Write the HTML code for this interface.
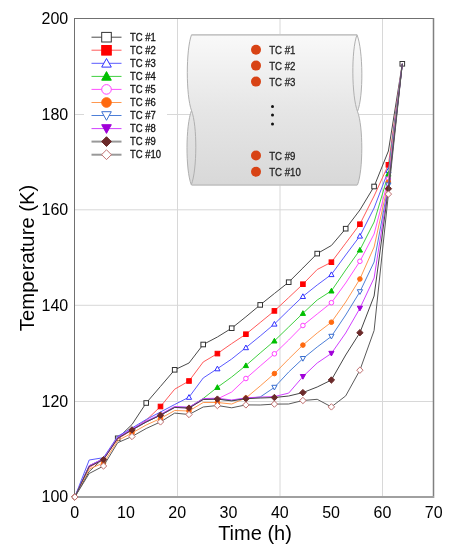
<!DOCTYPE html>
<html><head><meta charset="utf-8"><title>Temperature vs Time</title>
<style>
html,body{margin:0;padding:0;background:#fff;}
body{width:452px;height:550px;overflow:hidden;}
svg{display:block;}
text{font-family:"Liberation Sans",Arial,sans-serif;fill:#000;}
.tk{font-size:16px;}
.ax{font-size:20.3px;}
.lg{font-size:10.9px;fill:#111;stroke:#111;stroke-width:0.3px;}
.cl{font-size:11.1px;fill:#222;stroke:#222;stroke-width:0.3px;}
</style></head><body>
<svg width="452" height="550" viewBox="0 0 452 550">
<rect width="452" height="550" fill="#fff"/>
<line x1="177.5" y1="18" x2="177.5" y2="497" stroke="#d8d8d8" stroke-width="1"/>
<line x1="280" y1="18" x2="280" y2="497" stroke="#d8d8d8" stroke-width="1"/>
<line x1="382.5" y1="18" x2="382.5" y2="497" stroke="#d8d8d8" stroke-width="1"/>
<line x1="74" y1="114.5" x2="433" y2="114.5" stroke="#d8d8d8" stroke-width="1"/>
<line x1="74" y1="209.8" x2="433" y2="209.8" stroke="#d8d8d8" stroke-width="1"/>
<line x1="74" y1="305.3" x2="433" y2="305.3" stroke="#d8d8d8" stroke-width="1"/>
<line x1="74" y1="401.5" x2="433" y2="401.5" stroke="#d8d8d8" stroke-width="1"/>
<rect x="84" y="28" width="83" height="134" fill="#fff"/>

<defs><linearGradient id="cg" x1="0" y1="0" x2="0" y2="1">
<stop offset="0" stop-color="#f9f9f9"/><stop offset="0.5" stop-color="#e6e6e6"/><stop offset="1" stop-color="#d8d8d8"/></linearGradient></defs>
<path d="M191.5,34.8 L357,34.8 C363.13,50.14 363.63,96.16 357.50,111.50 C363.23,126.16 363.23,170.14 357.50,184.80 L191.3,184.8 C185.43,169.94 185.63,125.36 191.50,110.50 C185.90,95.36 185.90,49.94 191.50,34.80 Z" fill="url(#cg)" stroke="#b0b0b0" stroke-width="1"/>
<path d="M191.5,110.5 C197.37,125.36 197.17,169.94 191.30,184.80" fill="none" stroke="#b0b0b0" stroke-width="1"/>
<path d="M357,34.8 C351.13,50.14 351.63,96.16 357.50,111.50" fill="none" stroke="#b0b0b0" stroke-width="1"/>
<line x1="192.0" y1="34.8" x2="356.5" y2="34.8" stroke="#c6c6c6" stroke-width="1.6"/>
<line x1="191.8" y1="184.8" x2="357.0" y2="184.8" stroke="#c6c6c6" stroke-width="1.8"/>

<circle cx="256" cy="49.7" r="5" fill="#d84315"/>
<text transform="translate(269.2,53.9) scale(0.87,1)" class="cl">TC #1</text>
<circle cx="256" cy="65.6" r="5" fill="#d84315"/>
<text transform="translate(269.2,69.8) scale(0.87,1)" class="cl">TC #2</text>
<circle cx="256" cy="81.6" r="5" fill="#d84315"/>
<text transform="translate(269.2,85.8) scale(0.87,1)" class="cl">TC #3</text>
<circle cx="256" cy="155.5" r="5" fill="#d84315"/>
<text transform="translate(269.2,159.7) scale(0.87,1)" class="cl">TC #9</text>
<circle cx="256" cy="171.8" r="5" fill="#d84315"/>
<text transform="translate(269.2,176.0) scale(0.87,1)" class="cl">TC #10</text>
<circle cx="272.5" cy="106.4" r="1.5" fill="#111"/>
<circle cx="272.5" cy="115.1" r="1.5" fill="#111"/>
<circle cx="272.5" cy="124.1" r="1.5" fill="#111"/>
<line x1="74.5" y1="18" x2="74.5" y2="497" stroke="#707070" stroke-width="1"/>
<line x1="74" y1="18.5" x2="434" y2="18.5" stroke="#707070" stroke-width="1"/>
<line x1="433.5" y1="18" x2="433.5" y2="498" stroke="#808080" stroke-width="1.5"/>
<line x1="74" y1="497" x2="434" y2="497" stroke="#a0a0a0" stroke-width="2"/>
<polyline points="74.8,497.0 89.2,471.5 103.5,458.0 117.7,438.3 132.0,424.5 146.2,403.0 160.5,386.4 174.7,369.8 189.0,363.0 203.2,344.5 217.4,337.0 231.7,328.2 245.9,316.8 260.2,304.9 274.4,293.5 288.7,282.2 302.9,268.0 317.2,253.6 331.4,245.5 345.7,228.7 359.9,210.0 374.1,186.5 388.4,151.0 402.3,63.8" fill="none" stroke="#4a4a4a" stroke-width="1" stroke-linejoin="round"/>
<rect x="115.4" y="436.0" width="4.6" height="4.6" fill="#fff" stroke="#333" stroke-width="1"/>
<rect x="143.9" y="400.7" width="4.6" height="4.6" fill="#fff" stroke="#333" stroke-width="1"/>
<rect x="172.4" y="367.5" width="4.6" height="4.6" fill="#fff" stroke="#333" stroke-width="1"/>
<rect x="200.9" y="342.2" width="4.6" height="4.6" fill="#fff" stroke="#333" stroke-width="1"/>
<rect x="229.4" y="325.9" width="4.6" height="4.6" fill="#fff" stroke="#333" stroke-width="1"/>
<rect x="257.9" y="302.6" width="4.6" height="4.6" fill="#fff" stroke="#333" stroke-width="1"/>
<rect x="286.4" y="279.9" width="4.6" height="4.6" fill="#fff" stroke="#333" stroke-width="1"/>
<rect x="314.9" y="251.3" width="4.6" height="4.6" fill="#fff" stroke="#333" stroke-width="1"/>
<rect x="343.4" y="226.4" width="4.6" height="4.6" fill="#fff" stroke="#333" stroke-width="1"/>
<rect x="371.8" y="184.2" width="4.6" height="4.6" fill="#fff" stroke="#333" stroke-width="1"/>
<rect x="400.0" y="61.5" width="4.6" height="4.6" fill="#fff" stroke="#333" stroke-width="1"/>
<polyline points="74.8,497.0 89.2,467.5 103.5,459.0 117.7,439.0 132.0,430.0 146.2,420.2 160.5,406.5 174.7,389.2 189.0,381.0 203.2,362.0 217.4,353.6 231.7,343.6 245.9,334.2 260.2,322.5 274.4,310.9 288.7,297.6 302.9,284.2 317.2,269.5 331.4,262.2 345.7,243.2 359.9,224.2 374.1,196.0 388.4,164.8 402.3,63.8" fill="none" stroke="#ff5a5a" stroke-width="1" stroke-linejoin="round"/>
<rect x="158.2" y="404.2" width="4.6" height="4.6" fill="#ff0000" stroke="#ff0000" stroke-width="1"/>
<rect x="186.7" y="378.7" width="4.6" height="4.6" fill="#ff0000" stroke="#ff0000" stroke-width="1"/>
<rect x="215.1" y="351.3" width="4.6" height="4.6" fill="#ff0000" stroke="#ff0000" stroke-width="1"/>
<rect x="243.6" y="331.9" width="4.6" height="4.6" fill="#ff0000" stroke="#ff0000" stroke-width="1"/>
<rect x="272.1" y="308.6" width="4.6" height="4.6" fill="#ff0000" stroke="#ff0000" stroke-width="1"/>
<rect x="300.6" y="281.9" width="4.6" height="4.6" fill="#ff0000" stroke="#ff0000" stroke-width="1"/>
<rect x="329.1" y="259.9" width="4.6" height="4.6" fill="#ff0000" stroke="#ff0000" stroke-width="1"/>
<rect x="357.6" y="221.9" width="4.6" height="4.6" fill="#ff0000" stroke="#ff0000" stroke-width="1"/>
<rect x="386.1" y="162.5" width="4.6" height="4.6" fill="#ff0000" stroke="#ff0000" stroke-width="1"/>
<polyline points="74.8,497.0 89.2,460.0 103.5,457.7 117.7,436.3 132.0,428.0 146.2,419.5 160.5,412.0 174.7,404.5 189.0,397.2 203.2,378.0 217.4,368.7 231.7,359.0 245.9,347.6 260.2,336.0 274.4,324.0 288.7,310.0 302.9,296.4 317.2,285.0 331.4,274.5 345.7,255.0 359.9,236.0 374.1,208.0 388.4,170.5 402.3,63.8" fill="none" stroke="#5a5aff" stroke-width="1" stroke-linejoin="round"/>
<polygon points="189.0,394.6 191.6,399.3 186.4,399.3" fill="#fff" stroke="#3030ff" stroke-width="1"/>
<polygon points="217.4,366.1 220.0,370.8 214.8,370.8" fill="#fff" stroke="#3030ff" stroke-width="1"/>
<polygon points="245.9,345.0 248.5,349.7 243.3,349.7" fill="#fff" stroke="#3030ff" stroke-width="1"/>
<polygon points="274.4,321.4 277.0,326.1 271.8,326.1" fill="#fff" stroke="#3030ff" stroke-width="1"/>
<polygon points="302.9,293.8 305.5,298.5 300.3,298.5" fill="#fff" stroke="#3030ff" stroke-width="1"/>
<polygon points="331.4,271.9 334.0,276.6 328.8,276.6" fill="#fff" stroke="#3030ff" stroke-width="1"/>
<polygon points="359.9,233.4 362.5,238.1 357.3,238.1" fill="#fff" stroke="#3030ff" stroke-width="1"/>
<polygon points="388.4,167.9 391.0,172.6 385.8,172.6" fill="#fff" stroke="#3030ff" stroke-width="1"/>
<polyline points="74.8,497.0 89.2,466.2 103.5,459.0 117.7,438.0 132.0,430.0 146.2,422.0 160.5,415.0 174.7,407.5 189.0,407.5 203.2,398.5 217.4,387.3 231.7,377.0 245.9,365.5 260.2,353.0 274.4,340.9 288.7,327.0 302.9,313.3 317.2,300.0 331.4,290.9 345.7,270.0 359.9,250.0 374.1,222.0 388.4,174.0 402.3,63.8" fill="none" stroke="#40d040" stroke-width="1" stroke-linejoin="round"/>
<polygon points="217.4,384.7 220.0,389.4 214.8,389.4" fill="#00c000" stroke="#00c000" stroke-width="1"/>
<polygon points="245.9,362.9 248.5,367.6 243.3,367.6" fill="#00c000" stroke="#00c000" stroke-width="1"/>
<polygon points="274.4,338.3 277.0,343.0 271.8,343.0" fill="#00c000" stroke="#00c000" stroke-width="1"/>
<polygon points="302.9,310.7 305.5,315.4 300.3,315.4" fill="#00c000" stroke="#00c000" stroke-width="1"/>
<polygon points="331.4,288.3 334.0,293.0 328.8,293.0" fill="#00c000" stroke="#00c000" stroke-width="1"/>
<polygon points="359.9,247.4 362.5,252.1 357.3,252.1" fill="#00c000" stroke="#00c000" stroke-width="1"/>
<polygon points="388.4,171.4 391.0,176.1 385.8,176.1" fill="#00c000" stroke="#00c000" stroke-width="1"/>
<polyline points="74.8,497.0 89.2,466.8 103.5,459.5 117.7,438.3 132.0,430.0 146.2,422.0 160.5,415.0 174.7,407.5 189.0,408.0 203.2,399.5 217.4,399.0 231.7,392.0 245.9,378.5 260.2,366.0 274.4,353.8 288.7,340.0 302.9,325.5 317.2,314.0 331.4,302.7 345.7,283.0 359.9,261.3 374.1,234.0 388.4,179.0 402.3,63.8" fill="none" stroke="#ff50ff" stroke-width="1" stroke-linejoin="round"/>
<circle cx="245.9" cy="378.5" r="2.3" fill="#fff" stroke="#ff40ff" stroke-width="1"/>
<circle cx="274.4" cy="353.8" r="2.3" fill="#fff" stroke="#ff40ff" stroke-width="1"/>
<circle cx="302.9" cy="325.5" r="2.3" fill="#fff" stroke="#ff40ff" stroke-width="1"/>
<circle cx="331.4" cy="302.7" r="2.3" fill="#fff" stroke="#ff40ff" stroke-width="1"/>
<circle cx="359.9" cy="261.3" r="2.3" fill="#fff" stroke="#ff40ff" stroke-width="1"/>
<circle cx="388.4" cy="179.0" r="2.3" fill="#fff" stroke="#ff40ff" stroke-width="1"/>
<polyline points="74.8,497.0 89.2,469.0 103.5,463.0 117.7,440.7 132.0,433.0 146.2,425.0 160.5,418.5 174.7,410.5 189.0,411.0 203.2,402.5 217.4,402.5 231.7,404.0 245.9,398.0 260.2,386.0 274.4,373.6 288.7,359.0 302.9,345.1 317.2,333.0 331.4,322.2 345.7,302.0 359.9,279.0 374.1,247.0 388.4,182.0 402.3,63.8" fill="none" stroke="#ff9850" stroke-width="1" stroke-linejoin="round"/>
<circle cx="74.8" cy="497.0" r="2.3" fill="#ff6a10" stroke="#ff6a10" stroke-width="1"/>
<circle cx="103.5" cy="463.0" r="2.3" fill="#ff6a10" stroke="#ff6a10" stroke-width="1"/>
<circle cx="132.0" cy="433.0" r="2.3" fill="#ff6a10" stroke="#ff6a10" stroke-width="1"/>
<circle cx="160.5" cy="418.5" r="2.3" fill="#ff6a10" stroke="#ff6a10" stroke-width="1"/>
<circle cx="189.0" cy="411.0" r="2.3" fill="#ff6a10" stroke="#ff6a10" stroke-width="1"/>
<circle cx="217.4" cy="402.5" r="2.3" fill="#ff6a10" stroke="#ff6a10" stroke-width="1"/>
<circle cx="245.9" cy="398.0" r="2.3" fill="#ff6a10" stroke="#ff6a10" stroke-width="1"/>
<circle cx="274.4" cy="373.6" r="2.3" fill="#ff6a10" stroke="#ff6a10" stroke-width="1"/>
<circle cx="302.9" cy="345.1" r="2.3" fill="#ff6a10" stroke="#ff6a10" stroke-width="1"/>
<circle cx="331.4" cy="322.2" r="2.3" fill="#ff6a10" stroke="#ff6a10" stroke-width="1"/>
<circle cx="359.9" cy="279.0" r="2.3" fill="#ff6a10" stroke="#ff6a10" stroke-width="1"/>
<circle cx="388.4" cy="182.0" r="2.3" fill="#ff6a10" stroke="#ff6a10" stroke-width="1"/>
<polyline points="74.8,497.0 89.2,465.8 103.5,458.5 117.7,437.5 132.0,429.5 146.2,421.5 160.5,415.0 174.7,407.0 189.0,407.5 203.2,399.0 217.4,399.0 231.7,400.5 245.9,398.5 260.2,397.0 274.4,387.4 288.7,372.0 302.9,358.6 317.2,347.0 331.4,336.4 345.7,315.0 359.9,291.8 374.1,262.0 388.4,185.0 402.3,63.8" fill="none" stroke="#4d7fd8" stroke-width="1" stroke-linejoin="round"/>
<polygon points="274.4,390.0 277.0,385.3 271.8,385.3" fill="#fff" stroke="#3a6fd0" stroke-width="1"/>
<polygon points="302.9,361.2 305.5,356.5 300.3,356.5" fill="#fff" stroke="#3a6fd0" stroke-width="1"/>
<polygon points="331.4,339.0 334.0,334.3 328.8,334.3" fill="#fff" stroke="#3a6fd0" stroke-width="1"/>
<polygon points="359.9,294.4 362.5,289.7 357.3,289.7" fill="#fff" stroke="#3a6fd0" stroke-width="1"/>
<polygon points="388.4,187.6 391.0,182.9 385.8,182.9" fill="#fff" stroke="#3a6fd0" stroke-width="1"/>
<polyline points="74.8,497.0 89.2,465.6 103.5,458.8 117.7,437.4 132.0,429.0 146.2,421.1 160.5,414.3 174.7,406.5 189.0,407.2 203.2,398.6 217.4,398.2 231.7,400.0 245.9,397.8 260.2,397.1 274.4,396.6 288.7,393.1 302.9,376.6 317.2,363.0 331.4,353.4 345.7,333.0 359.9,308.3 374.1,278.0 388.4,186.5 402.3,63.8" fill="none" stroke="#d040ff" stroke-width="1" stroke-linejoin="round"/>
<polygon points="302.9,379.2 305.5,374.5 300.3,374.5" fill="#a000d8" stroke="#a000d8" stroke-width="1"/>
<polygon points="331.4,356.0 334.0,351.3 328.8,351.3" fill="#a000d8" stroke="#a000d8" stroke-width="1"/>
<polygon points="359.9,310.9 362.5,306.2 357.3,306.2" fill="#a000d8" stroke="#a000d8" stroke-width="1"/>
<polyline points="74.8,497.0 89.2,466.5 103.5,459.7 117.7,438.3 132.0,429.9 146.2,422.0 160.5,415.2 174.7,407.4 189.0,408.1 203.2,399.5 217.4,399.1 231.7,400.9 245.9,398.7 260.2,398.0 274.4,397.5 288.7,396.0 302.9,392.6 317.2,387.0 331.4,380.0 345.7,355.0 359.9,332.7 374.1,296.0 388.4,188.7 402.3,63.8" fill="none" stroke="#454545" stroke-width="1" stroke-linejoin="round"/>
<polygon points="74.8,493.8 78.0,497.0 74.8,500.2 71.6,497.0" fill="#6b2a2a" stroke="#6b2a2a" stroke-width="1"/>
<polygon points="103.5,456.5 106.7,459.7 103.5,462.9 100.3,459.7" fill="#6b2a2a" stroke="#6b2a2a" stroke-width="1"/>
<polygon points="132.0,426.7 135.2,429.9 132.0,433.1 128.8,429.9" fill="#6b2a2a" stroke="#6b2a2a" stroke-width="1"/>
<polygon points="160.5,412.0 163.7,415.2 160.5,418.4 157.3,415.2" fill="#6b2a2a" stroke="#6b2a2a" stroke-width="1"/>
<polygon points="189.0,404.9 192.2,408.1 189.0,411.3 185.8,408.1" fill="#6b2a2a" stroke="#6b2a2a" stroke-width="1"/>
<polygon points="217.4,395.9 220.6,399.1 217.4,402.3 214.2,399.1" fill="#6b2a2a" stroke="#6b2a2a" stroke-width="1"/>
<polygon points="245.9,395.5 249.1,398.7 245.9,401.9 242.7,398.7" fill="#6b2a2a" stroke="#6b2a2a" stroke-width="1"/>
<polygon points="274.4,394.3 277.6,397.5 274.4,400.7 271.2,397.5" fill="#6b2a2a" stroke="#6b2a2a" stroke-width="1"/>
<polygon points="302.9,389.4 306.1,392.6 302.9,395.8 299.7,392.6" fill="#6b2a2a" stroke="#6b2a2a" stroke-width="1"/>
<polygon points="331.4,376.8 334.6,380.0 331.4,383.2 328.2,380.0" fill="#6b2a2a" stroke="#6b2a2a" stroke-width="1"/>
<polygon points="359.9,329.5 363.1,332.7 359.9,335.9 356.7,332.7" fill="#6b2a2a" stroke="#6b2a2a" stroke-width="1"/>
<polygon points="388.4,185.5 391.6,188.7 388.4,191.9 385.2,188.7" fill="#6b2a2a" stroke="#6b2a2a" stroke-width="1"/>
<polyline points="74.8,497.0 89.2,473.5 103.5,466.0 117.7,442.7 132.0,436.5 146.2,428.5 160.5,421.9 174.7,413.1 189.0,414.5 203.2,407.0 217.4,405.5 231.7,407.8 245.9,404.9 260.2,405.0 274.4,404.1 288.7,404.0 302.9,400.5 317.2,399.3 331.4,406.9 345.7,395.9 359.9,370.2 374.1,330.5 388.4,194.1 402.3,63.8" fill="none" stroke="#5a5a5a" stroke-width="1" stroke-linejoin="round"/>
<polygon points="74.8,493.8 78.0,497.0 74.8,500.2 71.6,497.0" fill="#fff" stroke="#c07070" stroke-width="1"/>
<polygon points="103.5,462.8 106.7,466.0 103.5,469.2 100.3,466.0" fill="#fff" stroke="#c07070" stroke-width="1"/>
<polygon points="132.0,433.3 135.2,436.5 132.0,439.7 128.8,436.5" fill="#fff" stroke="#c07070" stroke-width="1"/>
<polygon points="160.5,418.7 163.7,421.9 160.5,425.1 157.3,421.9" fill="#fff" stroke="#c07070" stroke-width="1"/>
<polygon points="189.0,411.3 192.2,414.5 189.0,417.7 185.8,414.5" fill="#fff" stroke="#c07070" stroke-width="1"/>
<polygon points="217.4,402.3 220.6,405.5 217.4,408.7 214.2,405.5" fill="#fff" stroke="#c07070" stroke-width="1"/>
<polygon points="245.9,401.7 249.1,404.9 245.9,408.1 242.7,404.9" fill="#fff" stroke="#c07070" stroke-width="1"/>
<polygon points="274.4,400.9 277.6,404.1 274.4,407.3 271.2,404.1" fill="#fff" stroke="#c07070" stroke-width="1"/>
<polygon points="302.9,397.3 306.1,400.5 302.9,403.7 299.7,400.5" fill="#fff" stroke="#c07070" stroke-width="1"/>
<polygon points="331.4,403.7 334.6,406.9 331.4,410.1 328.2,406.9" fill="#fff" stroke="#c07070" stroke-width="1"/>
<polygon points="359.9,367.0 363.1,370.2 359.9,373.4 356.7,370.2" fill="#fff" stroke="#c07070" stroke-width="1"/>
<polygon points="388.4,190.9 391.6,194.1 388.4,197.3 385.2,194.1" fill="#fff" stroke="#c07070" stroke-width="1"/>
<line x1="91.5" y1="37.2" x2="121.5" y2="37.2" stroke="#4a4a4a" stroke-width="1"/>
<rect x="101.7" y="32.4" width="9.6" height="9.6" fill="#fff" stroke="#333" stroke-width="1"/>
<text transform="translate(130,40.5) scale(0.87,1)" class="lg">TC #1</text>
<line x1="91.5" y1="50.2" x2="121.5" y2="50.2" stroke="#ff5a5a" stroke-width="1"/>
<rect x="101.7" y="45.5" width="9.6" height="9.6" fill="#ff0000" stroke="#ff0000" stroke-width="1"/>
<text transform="translate(130,53.5) scale(0.87,1)" class="lg">TC #2</text>
<line x1="91.5" y1="63.3" x2="121.5" y2="63.3" stroke="#5a5aff" stroke-width="1"/>
<polygon points="106.5,58.5 111.3,67.1 101.7,67.1" fill="#fff" stroke="#3030ff" stroke-width="1"/>
<text transform="translate(130,66.6) scale(0.87,1)" class="lg">TC #3</text>
<line x1="91.5" y1="76.4" x2="121.5" y2="76.4" stroke="#40d040" stroke-width="1"/>
<polygon points="106.5,71.6 111.3,80.2 101.7,80.2" fill="#00c000" stroke="#00c000" stroke-width="1"/>
<text transform="translate(130,79.7) scale(0.87,1)" class="lg">TC #4</text>
<line x1="91.5" y1="89.4" x2="121.5" y2="89.4" stroke="#ff50ff" stroke-width="1"/>
<circle cx="106.5" cy="89.4" r="4.8" fill="#fff" stroke="#ff40ff" stroke-width="1"/>
<text transform="translate(130,92.7) scale(0.87,1)" class="lg">TC #5</text>
<line x1="91.5" y1="102.5" x2="121.5" y2="102.5" stroke="#ff9850" stroke-width="1"/>
<circle cx="106.5" cy="102.5" r="4.8" fill="#ff6a10" stroke="#ff6a10" stroke-width="1"/>
<text transform="translate(130,105.8) scale(0.87,1)" class="lg">TC #6</text>
<line x1="91.5" y1="115.5" x2="121.5" y2="115.5" stroke="#4d7fd8" stroke-width="1"/>
<polygon points="106.5,120.3 111.3,111.7 101.7,111.7" fill="#fff" stroke="#3a6fd0" stroke-width="1"/>
<text transform="translate(130,118.8) scale(0.87,1)" class="lg">TC #7</text>
<line x1="91.5" y1="128.6" x2="121.5" y2="128.6" stroke="#d040ff" stroke-width="1"/>
<polygon points="106.5,133.4 111.3,124.7 101.7,124.7" fill="#a000d8" stroke="#a000d8" stroke-width="1"/>
<text transform="translate(130,131.9) scale(0.87,1)" class="lg">TC #8</text>
<line x1="91.5" y1="141.6" x2="121.5" y2="141.6" stroke="#999999" stroke-width="2"/>
<polygon points="106.5,136.7 111.4,141.6 106.5,146.5 101.6,141.6" fill="#6b2a2a" stroke="#6b2a2a" stroke-width="1"/>
<text transform="translate(130,144.9) scale(0.87,1)" class="lg">TC #9</text>
<line x1="91.5" y1="154.7" x2="121.5" y2="154.7" stroke="#999999" stroke-width="2"/>
<polygon points="106.5,149.8 111.4,154.7 106.5,159.6 101.6,154.7" fill="#fff" stroke="#c07070" stroke-width="1"/>
<text transform="translate(130,158.0) scale(0.87,1)" class="lg">TC #10</text>
<text x="68.2" y="502.4" class="tk" text-anchor="end">100</text>
<text x="68.2" y="406.7" class="tk" text-anchor="end">120</text>
<text x="68.2" y="311.0" class="tk" text-anchor="end">140</text>
<text x="68.2" y="215.2" class="tk" text-anchor="end">160</text>
<text x="68.2" y="119.5" class="tk" text-anchor="end">180</text>
<text x="68.2" y="23.8" class="tk" text-anchor="end">200</text>
<text x="74.6" y="518" class="tk" text-anchor="middle">0</text>
<text x="125.9" y="518" class="tk" text-anchor="middle">10</text>
<text x="177.2" y="518" class="tk" text-anchor="middle">20</text>
<text x="228.5" y="518" class="tk" text-anchor="middle">30</text>
<text x="279.8" y="518" class="tk" text-anchor="middle">40</text>
<text x="331.1" y="518" class="tk" text-anchor="middle">50</text>
<text x="382.4" y="518" class="tk" text-anchor="middle">60</text>
<text x="433.7" y="518" class="tk" text-anchor="middle">70</text>
<text x="255" y="539.5" class="ax" style="font-size:20px" text-anchor="middle">Time (h)</text>
<text transform="translate(34,257.9) rotate(-90)" class="ax" text-anchor="middle">Temperature (K)</text>
</svg>
</body></html>
